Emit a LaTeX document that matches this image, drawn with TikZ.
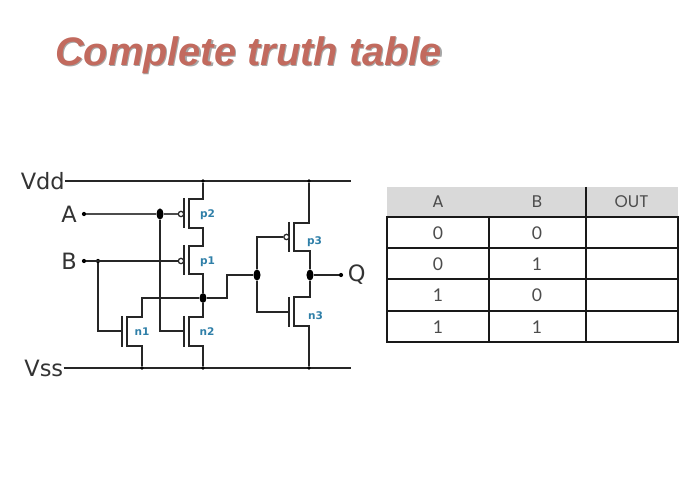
\documentclass[tikz,border=0pt]{standalone}
\usepackage{fontspec}
\setmainfont{DejaVu Sans}
\newfontfamily\titlefont{Liberation Sans}
\newfontfamily\tablefont{Poppins}
\newfontfamily\digitfont{Lato}
\definecolor{titlered}{HTML}{C26A5E}
\definecolor{labelblue}{HTML}{2F7FA8}
\definecolor{headgray}{HTML}{D9D9D9}
\tikzset{
    wire/.style={line width=1.25pt, black!85},
    gatebar/.style={line width=1.4pt, black!85},
    junction/.style={circle, fill=black, inner sep=0pt, minimum size=3.5pt},
    bigjunction/.style={ellipse, fill=black, inner sep=0pt, minimum width=5pt, minimum height=8pt},
    bubble/.style={circle, draw=black!85, fill=white, line width=0.9pt, inner sep=0pt, minimum size=3.8pt},
    pin/.style={font=\fontsize{16}{16}\selectfont, text=black!80, inner sep=0pt},
    devlabel/.style={font=\fontsize{7.5}{7.5}\selectfont\bfseries, text=labelblue, inner sep=0pt},
    cell/.style={font=\tablefont\fontsize{12}{12}\selectfont, text=black!70, inner sep=0pt},
    digit/.style={font=\digitfont\fontsize{12.5}{12.5}\selectfont, text=black!70, inner sep=0pt},
    tabline/.style={line width=1.2pt, black!90}
}
\usetikzlibrary{shapes.geometric}
\begin{document}
\begin{tikzpicture}[x=0.025cm, y=-0.025cm]
    \useasboundingbox (0,0) rectangle (700,484);
    % Titel
    \node[inner sep=0pt, text=black!35, font=\titlefont\fontsize{28.3}{28.3}\selectfont\bfseries\itshape] at (249.7,56.7) {Complete truth table};
    \node (title) [inner sep=0pt, text=titlered, font=\titlefont\fontsize{28.3}{28.3}\selectfont\bfseries\itshape] at (248.5,55) {Complete truth table};
    % Anschluesse
    \node (vdd) [pin, anchor=east] at (65,181) {Vdd};
    \node (vss) [pin, anchor=east] at (63.5,368) {Vss};
    \node (a) [pin, anchor=east] at (77,214) {A};
    \node (b) [pin, anchor=east] at (77,261) {B};
    \node (q) [pin, anchor=west] at (347.5,275) {Q};
    \node (adot) [junction, minimum size=3pt] at (84,214) {};
    \node (bdot) [junction, minimum size=3pt] at (84,261) {};
    \node (qdot) [junction, minimum size=3pt] at (341,275) {};
    \coordinate (vddend) at (351,181);
    \coordinate (vssend) at (351,368);
    % Versorgung
    \draw[wire, line width=1.4pt] (vdd.east) -- (vddend);
    \draw[wire, line width=1.4pt] (vss.east) -- (vssend);
    % Knoten
    \node (jvddl) [junction, minimum size=2.8pt] at (203,181) {};
    \node (jvddr) [junction, minimum size=2.8pt] at (309,181) {};
    \node (jvss1) [junction, minimum size=2.8pt] at (142,368) {};
    \node (jvss2) [junction, minimum size=2.8pt] at (203,368) {};
    \node (jvss3) [junction, minimum size=2.8pt] at (309,368) {};
    \node (ja) [bigjunction] at (160,214) {};
    \node (jb) [junction, minimum size=3pt] at (98,261) {};
    \node (jmid) [bigjunction, minimum height=7pt] at (203,298) {};
    \node (jin) [bigjunction] at (257,275) {};
    \node (jout) [bigjunction] at (310,275) {};
    % Gate-Balken
    \coordinate (gp2a) at (184,198); \coordinate (gp2b) at (184,228);
    \coordinate (gp1a) at (184,245); \coordinate (gp1b) at (184,275);
    \coordinate (gn1a) at (122,316); \coordinate (gn1b) at (122,347);
    \coordinate (gn2a) at (184,316); \coordinate (gn2b) at (184,347);
    \coordinate (gp3a) at (289,222); \coordinate (gp3b) at (289,252);
    \coordinate (gn3a) at (289,297); \coordinate (gn3b) at (289,327);
    \foreach \first/\second in {gp2a/gp2b, gp1a/gp1b, gn1a/gn1b, gn2a/gn2b, gp3a/gp3b, gn3a/gn3b}
        \draw[gatebar] (\first) -- (\second);
    % Transistoren p2, p1, n2, n1
    \coordinate (p2s) at (189,199); \coordinate (p2d) at (189,228);
    \coordinate (p1s) at (189,246); \coordinate (p1d) at (189,274);
    \coordinate (n2d) at (189,317); \coordinate (n2s) at (189,346);
    \coordinate (n1d) at (127,317); \coordinate (n1s) at (127,346);
    \coordinate (p3s) at (294,223); \coordinate (p3d) at (294,251);
    \coordinate (n3d) at (294,297); \coordinate (n3s) at (294,326);
    \draw[wire] (jvddl) |- (p2s) -- (p2d) -| (203,246) -- (p1s) -- (p1d) -| (jmid.north);
    \draw[wire] (jmid.south) |- (n2d) -- (n2s) -| (jvss2);
    \draw[wire] (jmid) -| (n1d -| jvss1) -- (n1d) -- (n1s) -| (jvss1);
    \draw[wire] (jvddr) |- (p3s) -- (p3d) -| (jout.north);
    \draw[wire] (jout.south) |- (n3d) -- (n3s) -| (jvss3);
    % Bubbles und Gates
    \node (bp2) [bubble] at (181,214) {};
    \node (bp1) [bubble] at (181,261) {};
    \node (bp3) [bubble] at (286.5,237) {};
    \draw[wire, black!70] (adot) -- (ja) -- (bp2);
    \draw[wire] (bdot) -- (bp1);
    \draw[wire] (ja) |- (gn2a |- 0,331);
    \draw[wire] (jb) |- (gn1a |- 0,331);
    % Inverter
    \draw[wire] (jmid) -| (227,275) -- (jin);
    \draw[wire] (jin) |- (bp3);
    \draw[wire] (jin) |- (gn3a |- 0,312);
    \draw[wire] (jout) -- (qdot);
    % Bezeichnungen
    \node (lp2) [devlabel] at (207.5,214.5) {p2};
    \node (lp1) [devlabel] at (207.5,262) {p1};
    \node (ln1) [devlabel] at (142,331.5) {n1};
    \node (ln2) [devlabel] at (207,331.5) {n2};
    \node (lp3) [devlabel] at (314.5,242) {p3};
    \node (ln3) [devlabel] at (315.5,315.5) {n3};
    % Tabelle
    \fill[headgray] (387,186.7) rectangle (677.7,217.3);
    \draw[tabline] (387,217) rectangle (678,342);
    \foreach \y in {248,279,311}
        \draw[tabline] (387,\y) -- (678,\y);
    \draw[tabline] (489,217) -- (489,342);
    \draw[tabline] (586,187) -- (586,342);
    \node (ha) [cell] at (438,201.5) {A};
    \node (hb) [cell] at (537,201.5) {B};
    \node (hout) [cell] at (631.5,201.5) {OUT};
    \foreach \y/\av/\bv in {233/0/0, 264/0/1, 295/1/0, 327/1/1} {
        \node[digit] at (438,\y) {\av};
        \node[digit] at (537,\y) {\bv};
    }
\end{tikzpicture}
\end{document}
